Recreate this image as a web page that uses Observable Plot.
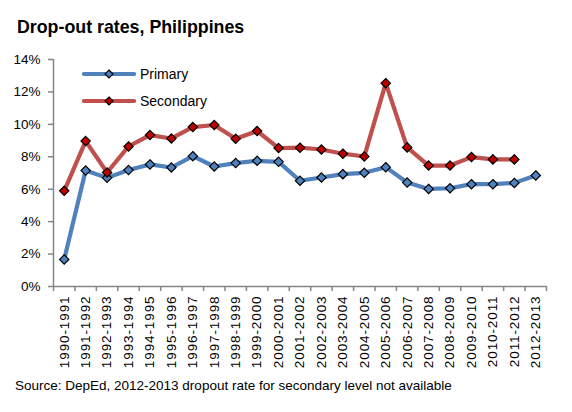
<!DOCTYPE html>
<html>
<head>
<meta charset="utf-8">
<script src="https://cdn.jsdelivr.net/npm/d3@7"></script>
<script src="https://cdn.jsdelivr.net/npm/@observablehq/plot@0.6"></script>
<style>
  body { margin: 0; background: #fff; font-family: "Liberation Sans", Arial, sans-serif; }
  #wrap { position: relative; width: 572px; height: 412px; }
  #title { position: absolute; left: 17px; top: 17px; font-size: 17.8px; font-weight: bold; color: #000; }
  #chart { position: absolute; left: 0; top: 45px; }
  #caption { position: absolute; left: 15px; top: 378px; font-size: 13.5px; color: #000; }
  #legend { position: absolute; left: 82px; top: 60px; font-size: 14px; color: #000; }
  #legend div { display: flex; align-items: center; height: 27.5px; }
  #legend svg { margin-right: 4px; }
  .xlab text { letter-spacing: 0.9px; }
</style>
</head>
<body>
<div id="wrap">
  <div id="title">Drop-out rates, Philippines</div>
  <div id="chart"></div>
  <div id="legend"></div>
  <div id="caption">Source: DepEd, 2012-2013 dropout rate for secondary level not available</div>
</div>
<script>
// School years
const years = [
  "1990-1991", "1991-1992", "1992-1993", "1993-1994", "1994-1995", "1995-1996",
  "1996-1997", "1997-1998", "1998-1999", "1999-2000", "2000-2001", "2001-2002",
  "2002-2003", "2003-2004", "2004-2005", "2005-2006", "2006-2007", "2007-2008",
  "2008-2009", "2009-2010", "2010-2011", "2011-2012", "2012-2013"
];
// Drop-out rates (%)
const primary = [1.67, 7.15, 6.70, 7.18, 7.53, 7.34, 8.04, 7.40, 7.61, 7.75, 7.69, 6.52,
  6.72, 6.93, 7.01, 7.36, 6.41, 6.02, 6.06, 6.31, 6.31, 6.39, 6.85];
const secondary = [5.90, 8.97, 7.03, 8.64, 9.34, 9.13, 9.83, 9.96, 9.11, 9.59, 8.54, 8.56,
  8.45, 8.19, 8.02, 12.54, 8.58, 7.46, 7.46, 7.98, 7.84, 7.84, null];
const yTicks = [0, 2, 4, 6, 8, 10, 12, 14];

const seriesInfo = [
  {name: "Primary", values: primary, line: "#4F81BD", marker: "#4F81BD"},
  {name: "Secondary", values: secondary, line: "#C0504D", marker: "#C00000"}
];

const rows = seriesInfo.flatMap(s =>
  s.values.map((v, i) => ({series: s.name, i, rate: v == null ? NaN : v / 100}))
);

const axisGrey = "#868686";
const marks = [];
for (const s of seriesInfo) {
  const data = rows.filter(d => d.series === s.name);
  marks.push(Plot.line(data, {x: "i", y: "rate", stroke: s.line, strokeWidth: 4.2, strokeLinejoin: "round"}));
}
for (const s of seriesInfo) {
  const data = rows.filter(d => d.series === s.name && !isNaN(d.rate));
  marks.push(Plot.dot(data, {x: "i", y: "rate", symbol: "diamond2", r: 4.2, fill: s.marker, stroke: "#000", strokeWidth: 1.2}));
}

const chart = Plot.plot({
  width: 572,
  height: 330,
  marginTop: 14,
  marginBottom: 89,
  marginLeft: 53,
  marginRight: 26,
  style: {fontFamily: "Liberation Sans, Arial, sans-serif", fontSize: "13.5px", color: "#000", background: "#fff"},
  x: {type: "linear", domain: [-0.5, years.length - 0.5], axis: null},
  y: {domain: [0, 0.14], axis: null},
  marks: [
    // axis lines
    Plot.ruleY([0], {stroke: axisGrey, strokeWidth: 1.5}),
    Plot.ruleX([-0.5], {stroke: axisGrey, strokeWidth: 1.5}),
    // y axis
    Plot.axisY({ticks: yTicks.map(t => t / 100), tickFormat: d3.format(".0%"), tickSize: 5, tickPadding: 8,
      stroke: axisGrey, strokeWidth: 1.5, fontSize: 13.5, label: null}),
    // x axis boundary ticks
    Plot.axisX({ticks: d3.range(-0.5, years.length), tickFormat: () => "", tickSize: 5,
      stroke: axisGrey, strokeWidth: 1.5, label: null}),
    // x axis category labels
    Plot.axisX({ticks: d3.range(years.length), tickFormat: i => years[i], tickSize: 0, tickPadding: 9,
      tickRotate: -90, fontSize: 13.5, label: null, className: "xlab"}),
    ...marks
  ]
});
document.getElementById("chart").appendChild(chart);

// legend
const legend = document.getElementById("legend");
for (const s of seriesInfo) {
  const row = document.createElement("div");
  row.innerHTML = `<svg width="54" height="12"><line x1="2" x2="52" y1="6" y2="6" stroke="${s.line}" stroke-width="4.2" stroke-linecap="round"/>` +
    `<path d="M27,2 L31,6 L27,10 L23,6 Z" fill="${s.marker}" stroke="#000" stroke-width="1.2"/></svg><span>${s.name}</span>`;
  legend.appendChild(row);
}
</script>
</body>
</html>
